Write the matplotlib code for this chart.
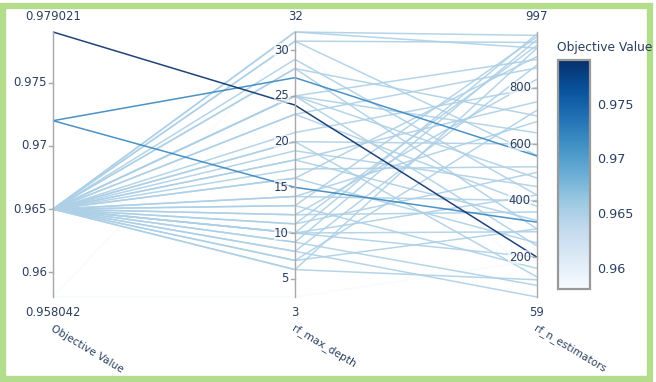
import matplotlib
matplotlib.use("Agg")
import matplotlib.pyplot as plt
import numpy as np
from matplotlib.patches import Rectangle
from matplotlib.cm import ScalarMappable
from matplotlib.colors import Normalize

# ---- data ----
dims = ["Objective Value", "rf_max_depth", "rf_n_estimators"]
objective = [0.965] * 42 + [0.972, 0.972, 0.979021, 0.958042, 0.958042]
max_depth = [32, 32, 31, 31, 29, 28, 28, 25, 25, 25, 25, 23, 23, 21, 20, 20, 19, 18, 18, 17, 16,
             16, 14, 14, 13, 13, 12, 12, 11, 11, 10, 10, 10, 10, 9, 9, 8, 8, 7, 7, 6, 6,
             27, 15, 24, 31, 3]
n_estimators = [985, 940, 960, 560, 420, 700, 300, 900, 640, 480, 240, 870, 380, 800, 600, 130, 450,
                750, 330, 520, 910, 250, 680, 400, 980, 160, 830, 360, 950, 500, 990, 420, 290,
                200, 970, 100, 880, 59, 720, 300, 940, 120,
                558, 324, 200, 112, 189]
obj_ticks = [0.96, 0.965, 0.97, 0.975]
depth_ticks = [5, 10, 15, 20, 25, 30]
nest_ticks = [200, 400, 600, 800]
obj_range = (0.958042, 0.979021)
depth_range = (3, 32)
nest_range = (59, 997)

TXT = "#2a3f5f"
W, H = 656, 382
fig = plt.figure(figsize=(W / 100, H / 100), dpi=100)
fig.patch.set_facecolor("white")

# green frame
fig.patches.append(Rectangle((3 / W, 3 / H), 1 - 9 / W, 1 - 9 / H, transform=fig.transFigure,
                             fill=False, edgecolor="#b3dc8d", linewidth=4.6, zorder=0))

ax = fig.add_axes([53 / W, (H - 297) / H, (537 - 53) / W, (297 - 32) / H])
ax.set_xlim(0, 2)
ax.set_ylim(0, 1)
ax.axis("off")

ranges = [obj_range, depth_range, nest_range]
cols = [objective, max_depth, n_estimators]
norm = Normalize(vmin=obj_range[0], vmax=obj_range[1])
cmap = plt.get_cmap("Blues")


def nrm(v, r):
    return (v - r[0]) / (r[1] - r[0])


order = np.argsort(objective, kind="stable")
for i in order:
    ys = [nrm(cols[k][i], ranges[k]) for k in range(3)]
    c = cmap(norm(objective[i]))
    ax.plot([0, 1, 2], ys, color=c, lw=1.1, alpha=0.9, solid_capstyle="butt", zorder=2,
            clip_on=False)

ticks = [obj_ticks, depth_ticks, nest_ticks]
top_lbl = ["0.979021", "32", "997"]
bot_lbl = ["0.958042", "3", "59"]
px = 1 / (537 - 53) * 2  # x data units per pixel
for k in range(3):
    ax.plot([k, k], [0, 1], color="#a8a8a8", lw=1.0, zorder=3, clip_on=False)
    for t in ticks[k]:
        y = nrm(t, ranges[k])
        ax.plot([k - 4 * px, k], [y, y], color="#a8a8a8", lw=1.0, zorder=3, clip_on=False)
        ax.text(k - 6 * px, y, f"{t:g}", ha="right", va="center", fontsize=8.4, color=TXT,
                zorder=4, bbox=dict(facecolor="white", edgecolor="none", alpha=0.6, pad=0.3))
    ax.text(k, 1 + 15 / 265, top_lbl[k], ha="center", va="center", fontsize=8.4, color=TXT)
    ax.text(k, -15 / 265, bot_lbl[k], ha="center", va="center", fontsize=8.4, color=TXT)
    ax.text(k + 1 * px, -26 / 265, dims[k], ha="left", va="top", fontsize=7.6, color=TXT,
            rotation=-31, rotation_mode="anchor")

# colorbar
cax = fig.add_axes([558 / W, (H - 289) / H, 32 / W, 229 / H])
sm = ScalarMappable(norm=norm, cmap=cmap)
cb = fig.colorbar(sm, cax=cax, ticks=obj_ticks)
cb.ax.set_yticklabels([f"{t:g}" for t in obj_ticks])
cb.ax.tick_params(length=0, labelsize=9.2, labelcolor=TXT, pad=5)
cb.outline.set_edgecolor("#999999")
cb.outline.set_linewidth(1.6)
fig.text(557 / W, 1 - 47 / H, "Objective Value", ha="left", va="center", fontsize=8.8, color=TXT)

fig.savefig("out.png", dpi=100, facecolor="white")
